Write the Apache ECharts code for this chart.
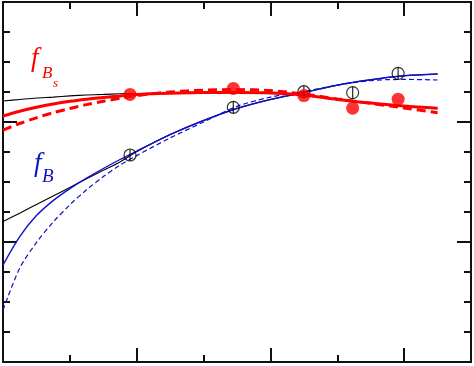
<!DOCTYPE html>
<html>
<head>
<meta charset="utf-8">
<script src="https://cdn.jsdelivr.net/npm/echarts@6/dist/echarts.min.js"></script>
<style>
html,body{margin:0;padding:0;background:#fff;}
#chart{width:474px;height:366px;}
</style>
</head>
<body>
<div id="chart"></div>
<script>
// curve sample positions (x) and values
const xGrid = [0,0.25,0.5,0.75,1,1.25,1.5,1.75,2,2.5,3,3.5,4,4.5,5,5.5,6,6.5];
const redSolidY  = [8.20,8.36,8.49,8.60,8.69,8.76,8.82,8.87,8.92,8.96,8.98,8.98,8.97,8.90,8.75,8.63,8.53,8.46];
const redDashedY = [7.73,7.95,8.14,8.31,8.45,8.58,8.69,8.79,8.88,9.00,9.06,9.08,9.05,8.93,8.77,8.62,8.47,8.31];
const blackUpperY= [8.70,8.75,8.80,8.83,8.87,8.90,8.92,8.94,8.95,8.97,8.98,8.98,8.97,8.90,8.75,8.63,8.53,8.45];
const blackLowerY= [4.68,4.96,5.25,5.53,5.82,6.11,6.39,6.67,7.01,7.58,8.05,8.45,8.75,8.98,9.23,9.41,9.54,9.60];
const blueSolidY = [3.23,4.18,4.88,5.38,5.78,6.13,6.45,6.75,7.03,7.58,8.05,8.45,8.75,8.98,9.23,9.41,9.54,9.60];
const blueDashedY= [1.73,3.13,3.98,4.66,5.24,5.74,6.18,6.56,6.88,7.47,8.00,8.52,8.83,9.02,9.23,9.38,9.42,9.40];

// data points
const markX   = [1.90, 3.445, 4.50, 5.23, 5.91];
const openY   = [6.90, 8.49, 9.01, 8.98, 9.62];
const filledY = [8.92, 9.12, 8.88, 8.46, 8.76];

const RED = '#ff0000';
const BLUE = '#1010cc';
const FRAME = '#111';

const pair = (xs, ys) => xs.map((x, i) => [x, ys[i]]);

function xAx(pos, interval, len) {
  return {
    type: 'value', position: pos, min: 0, max: 7, interval: interval,
    axisLine: { show: true, onZero: false, lineStyle: { color: FRAME, width: 2 } },
    axisTick: { show: true, inside: true, length: len, lineStyle: { color: FRAME, width: 2 } },
    axisLabel: { show: false }, splitLine: { show: false }
  };
}
function yAx(pos, interval, len) {
  return {
    type: 'value', position: pos, min: 0, max: 12, interval: interval,
    axisLine: { show: true, onZero: false, lineStyle: { color: FRAME, width: 2 } },
    axisTick: { show: true, inside: true, length: len, lineStyle: { color: FRAME, width: 2 } },
    axisLabel: { show: false }, splitLine: { show: false }
  };
}

function line(data, color, width, type, z) {
  return {
    type: 'line', data: data, smooth: 0.3, showSymbol: false, symbol: 'none',
    lineStyle: { color: color, width: width, type: type, cap: 'butt' },
    z: z, silent: true
  };
}

const chart = echarts.init(document.getElementById('chart'), null, { renderer: 'canvas' });
chart.setOption({
  animation: false,
  backgroundColor: '#fff',
  grid: { left: 3, right: 3, top: 2, bottom: 4, containLabel: false },
  xAxis: [xAx('bottom', 1, 7), xAx('bottom', 2, 14), xAx('top', 1, 7), xAx('top', 2, 14)],
  yAxis: [yAx('left', 1, 7), yAx('left', 4, 14), yAx('right', 1, 7), yAx('right', 4, 14)],
  series: [
    line(pair(xGrid, blackUpperY), '#000', 1.1, 'solid', 2),
    line(pair(xGrid, blackLowerY), '#000', 1.1, 'solid', 2),
    line(pair(xGrid, blueSolidY), BLUE, 1.4, 'solid', 3),
    line(pair(xGrid, blueDashedY), BLUE, 1.2, [5, 3], 3),
    line(pair(xGrid, redDashedY), RED, 3, [9, 5], 4),
    line(pair(xGrid, redSolidY), RED, 3, 'solid', 4),
    {
      type: 'scatter', data: pair(markX, openY), symbol: 'circle', symbolSize: 12,
      itemStyle: { color: 'rgba(0,0,0,0)', borderColor: '#000', borderWidth: 1.2 }, z: 5, silent: true
    },
    {
      type: 'scatter', data: pair(markX, openY), symbol: 'rect', symbolSize: [1.3, 12],
      itemStyle: { color: '#000' }, z: 5, silent: true
    },
    {
      type: 'scatter', data: pair(markX, filledY), symbol: 'circle', symbolSize: 13,
      itemStyle: { color: RED }, z: 6, silent: true
    }
  ],
  graphic: [
    { type: 'text', x: 31, y: 59, z: 10,
      style: { text: 'f', fill: RED, font: 'italic 27px "Liberation Serif", "DejaVu Serif", serif', align: 'left', verticalAlign: 'middle' } },
    { type: 'text', x: 42, y: 74, z: 10,
      style: { text: 'B', fill: RED, font: 'italic 17px "Liberation Serif", "DejaVu Serif", serif', align: 'left', verticalAlign: 'middle' } },
    { type: 'text', x: 53, y: 84, z: 10,
      style: { text: 's', fill: RED, font: 'italic 13px "Liberation Serif", "DejaVu Serif", serif', align: 'left', verticalAlign: 'middle' } },
    { type: 'text', x: 34, y: 163.5, z: 10,
      style: { text: 'f', fill: BLUE, font: 'italic 27px "Liberation Serif", "DejaVu Serif", serif', align: 'left', verticalAlign: 'middle' } },
    { type: 'text', x: 42, y: 177, z: 10,
      style: { text: 'B', fill: BLUE, font: 'italic 19px "Liberation Serif", "DejaVu Serif", serif', align: 'left', verticalAlign: 'middle' } }
  ]
});
</script>
</body>
</html>
